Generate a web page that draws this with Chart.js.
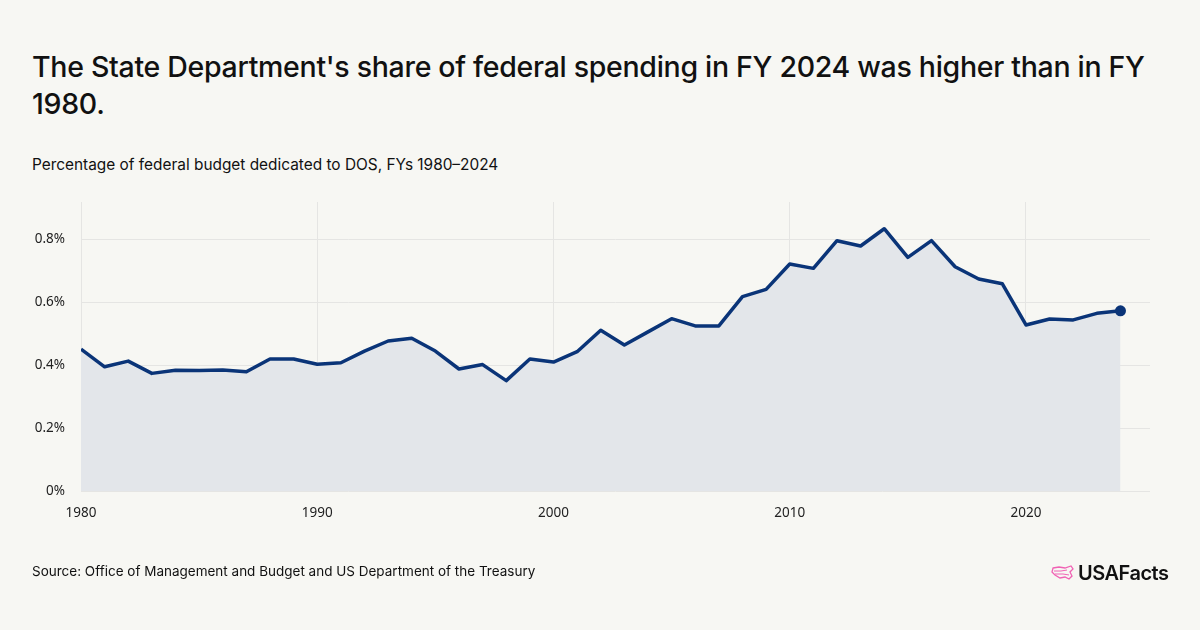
<!DOCTYPE html>
<html><head><meta charset="utf-8">
<script src="https://cdn.jsdelivr.net/npm/chart.js@4/dist/chart.umd.min.js"></script>
<style>
html,body{margin:0;padding:0;background:#f7f7f3;}
#wrap{position:relative;width:1200px;height:630px;overflow:hidden;font-family:Inter,"Noto Sans",sans-serif;color:#111;}
#title{position:absolute;left:32px;top:48px;width:1150px;font-size:28.5px;font-weight:500;line-height:37px;letter-spacing:-0.3px;}
#sub{position:absolute;left:32px;top:155px;font-size:15.4px;font-weight:400;}
#src{position:absolute;left:32px;top:563px;font-size:13.5px;}
#logo{position:absolute;left:1051px;top:561px;display:flex;align-items:center;font-size:20px;font-weight:600;letter-spacing:-0.5px;}
canvas{position:absolute;left:0;top:0;}
</style></head>
<body><div id="wrap">
<div id="title">The State Department's share of federal spending in FY 2024 was higher than in FY 1980.</div>
<div id="sub">Percentage of federal budget dedicated to DOS, FYs 1980–2024</div>
<canvas id="c" width="1200" height="630"></canvas>
<div id="src">Source: Office of Management and Budget and US Department of the Treasury</div>
<div id="logo"><svg width="24" height="18" viewBox="0 0 24 18" style="margin-right:3px"><path d="M2 4 L8 3 L14 4 L20 2 L22 5 L19 8 L21 12 L18 15 L14 13 L9 14 L4 11 L1 8 Z" fill="none" stroke="#f062b4" stroke-width="1.3"/><path d="M3 7 L10 7 L16 6 M4 10 L12 10 L18 11" fill="none" stroke="#f062b4" stroke-width="1"/></svg>USAFacts</div>
</div>
<script>
const years = [1980,1981,1982,1983,1984,1985,1986,1987,1988,1989,1990,1991,1992,1993,1994,1995,1996,1997,1998,1999,2000,2001,2002,2003,2004,2005,2006,2007,2008,2009,2010,2011,2012,2013,2014,2015,2016,2017,2018,2019,2020,2021,2022,2023,2024];
const shares = [0.451,0.395,0.413,0.374,0.384,0.383,0.385,0.379,0.420,0.420,0.403,0.408,0.445,0.477,0.486,0.445,0.388,0.402,0.351,0.420,0.410,0.443,0.511,0.464,0.506,0.548,0.525,0.525,0.618,0.641,0.722,0.708,0.796,0.779,0.834,0.743,0.796,0.713,0.674,0.659,0.528,0.547,0.544,0.565,0.573];
const xTicks = [1980,1990,2000,2010,2020];
const yTicks = [0,0.2,0.4,0.6,0.8];

const navy = '#0a3478';
const pts = years.map((y,i)=>({x:y,y:shares[i]}));
new Chart(document.getElementById('c'), {
  type:'line',
  data:{datasets:[{data:pts,borderColor:navy,borderWidth:3.5,backgroundColor:'#e3e6ea',fill:'origin',tension:0,
    pointRadius:ctx=>ctx.dataIndex===years.length-1?5.5:0,pointBackgroundColor:navy,pointBorderWidth:0,borderJoinStyle:'round'}]},
  options:{
    responsive:false,animation:false,
    layout:{padding:{top:202,right:50,left:0,bottom:0}},
    plugins:{legend:{display:false},tooltip:{enabled:false}},
    scales:{
      x:{type:'linear',min:1980,max:2025.25,
        afterBuildTicks:s=>{s.ticks=xTicks.map(v=>({value:v}));},
        afterFit:s=>{s.height=139;},
        border:{display:false},
        grid:{color:'#e5e5e3',drawTicks:false},
        ticks:{padding:14,color:'#222',font:{family:'"Noto Sans"',size:13.5},callback:v=>String(v),maxRotation:0}},
      y:{min:0,max:0.919,
        afterBuildTicks:s=>{s.ticks=yTicks.map(v=>({value:v}));},
        afterFit:s=>{s.width=81;},
        border:{display:false},
        grid:{color:'#e5e5e3',drawTicks:false},
        ticks:{padding:16,color:'#222',font:{family:'"Noto Sans"',size:13.5},callback:v=>(v===0?'0%':v.toFixed(1)+'%')}}
    }
  }
});
</script>
</body></html>
